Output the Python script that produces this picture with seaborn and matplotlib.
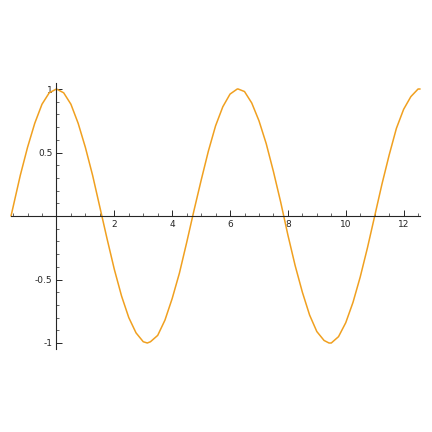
import matplotlib
matplotlib.use('Agg')
import matplotlib.pyplot as plt
import seaborn as sns
from matplotlib.ticker import MultipleLocator

# values
xs = [-1.57, -1.5, -1.25, -1.0, -0.75, -0.5, -0.25, 0.0, 0.25, 0.5, 0.75, 1.0, 1.25, 1.5,
      1.75, 2.0, 2.25, 2.5, 2.75, 3.0, 3.14, 3.25, 3.5, 3.75, 4.0, 4.25, 4.5, 4.75, 5.0,
      5.25, 5.5, 5.75, 6.0, 6.25, 6.28, 6.5, 6.75, 7.0, 7.25, 7.5, 7.75, 8.0, 8.25, 8.5,
      8.75, 9.0, 9.25, 9.42, 9.5, 9.75, 10.0, 10.25, 10.5, 10.75, 11.0, 11.25, 11.5, 11.75,
      12.0, 12.25, 12.5, 12.57]
ys = [0.0, 0.07, 0.32, 0.54, 0.73, 0.88, 0.97, 1.0, 0.97, 0.88, 0.73, 0.54, 0.32, 0.07,
      -0.18, -0.42, -0.63, -0.80, -0.92, -0.99, -1.0, -0.99, -0.94, -0.82, -0.65, -0.45, -0.21, 0.04, 0.28,
      0.51, 0.71, 0.86, 0.96, 1.0, 1.0, 0.98, 0.89, 0.75, 0.57, 0.35, 0.11, -0.15, -0.39, -0.60,
      -0.78, -0.91, -0.98, -1.0, -1.0, -0.95, -0.84, -0.68, -0.48, -0.25, 0.0, 0.25, 0.48, 0.69,
      0.84, 0.94, 1.0, 1.0]
xticks = [2, 4, 6, 8, 10, 12]
yticks = [-1, -0.5, 0.5, 1]
ylabels = ['-1', '-0.5', '0.5', '1']

sns.set_style('white')
fig = plt.figure(figsize=(4.32, 4.32), dpi=100)
ax = fig.add_axes([11/432, 89/432, 409/432, 254/432])
sns.lineplot(x=xs, y=ys, sort=False, ax=ax, color='#f0a020', linewidth=1.1, clip_on=False)
ax.set_xlim(-1.571, 12.566)
ax.set_ylim(-1, 1)
for s in ['top', 'right']:
    ax.spines[s].set_visible(False)
ax.spines['left'].set_position(('data', 0))
ax.spines['bottom'].set_position(('data', 0))
for s in ['left', 'bottom']:
    ax.spines[s].set_linewidth(0.8)
    ax.spines[s].set_bounds(*((-1.05, 1.05) if s == 'left' else (-1.571, 12.566)))
ax.set_xticks(xticks)
ax.set_xticklabels([str(t) for t in xticks], fontsize=6.5)
ax.set_yticks(yticks)
ax.set_yticklabels(ylabels, fontsize=6.5)
ax.xaxis.set_minor_locator(MultipleLocator(0.5))
ax.yaxis.set_minor_locator(MultipleLocator(0.1))
ax.tick_params(which='major', direction='in', length=4, width=0.7, pad=3, bottom=True, left=True)
ax.tick_params(which='minor', direction='in', length=2, width=0.5, bottom=True, left=True)
ax.patch.set_alpha(0)
fig.savefig('out.png', dpi=100)
